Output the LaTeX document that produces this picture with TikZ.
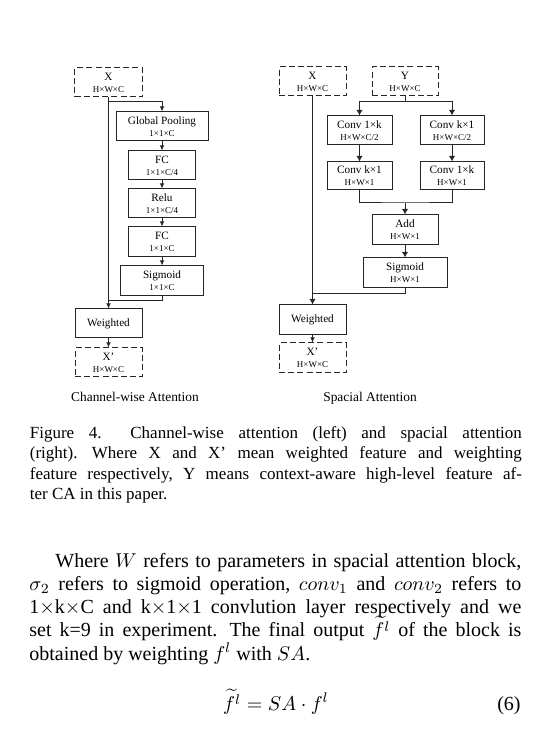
\documentclass[tikz,border=0pt]{standalone}
\usepackage{fontspec}
\setmainfont{Liberation Serif}
\usetikzlibrary{arrows.meta}
\newcommand{\sublab}[1]{{\fontsize{4.5}{5}\selectfont #1}}
\newcommand{\capline}[1]{\makebox[246pt][s]{\frenchspacing #1}}
\begin{document}
\begin{tikzpicture}[x=0.5pt,y=-0.5pt,
  box/.style={draw=black!85, line width=0.5pt, inner sep=0pt, align=center,
    font=\fontsize{5.6}{6}\selectfont, minimum height=14.5pt},
  dbox/.style={box, dash pattern=on 3pt off 1.6pt},
  arr/.style={-{Latex[length=2.6pt,width=2.4pt]}, line width=0.5pt, draw=black!85},
  arrb/.style={-{Latex[length=2.8pt,width=3.2pt]}, line width=0.5pt, draw=black!85},
  ln/.style={line width=0.5pt, draw=black!85},
  dcap/.style={inner sep=0pt, anchor=base, font=\fontsize{6.7}{8}\selectfont},
  capt/.style={inner sep=0pt, anchor=base west, font=\fontsize{8.5}{10}\selectfont\frenchspacing},
  body/.style={inner sep=0pt, anchor=base west, font=\fontsize{10}{12}\selectfont\frenchspacing}
]
\useasboundingbox (0,0) rectangle (549,747);

% ---------- Channel-wise attention ----------
\node[dbox, minimum width=34pt] (lX) at (108.5,82.5) {X\\\sublab{H×W×C}};
\node[box, minimum width=46pt] (gp) at (162,126.5) {Global Pooling\\\sublab{1×1×C}};
\node[box, minimum width=33.5pt] (fc1) at (162,165.5) {FC\\\sublab{1×1×C/4}};
\node[box, minimum width=33.5pt] (relu) at (162,203.5) {Relu\\\sublab{1×1×C/4}};
\node[box, minimum width=33.5pt, minimum height=15pt] (fc2) at (162,242) {FC\\\sublab{1×1×C}};
\node[box, minimum width=41.5pt, minimum height=15pt] (lsig) at (162,281) {Sigmoid\\\sublab{1×1×C}};
\node[box, minimum width=33.5pt] (lW) at (108.5,323.5) {Weighted};
\node[dbox, minimum width=33.5pt] (lXp) at (108.5,362.5) {X’\\\sublab{H×W×C}};
\node[dcap] (lcap) at (135,401) {Channel-wise Attention};

\coordinate (lb) at (108.5,102);
\coordinate (lj) at (108.5,301);
\draw[arr] (lX.south) -- (lW.north);
\draw[arr] (lb) -| (gp.north);
\draw[arr] (gp) -- (fc1);
\draw[arr] (fc1) -- (relu);
\draw[arr] (relu) -- (fc2);
\draw[arr] (fc2) -- (lsig);
\draw[ln] (lsig.south) |- (lj);
\draw[arr] (lW) -- (lXp);

% ---------- Spacial attention ----------
\node[dbox, minimum width=33.5pt] (rX) at (312.5,81.5) {X\\\sublab{H×W×C}};
\node[dbox, minimum width=33pt] (rY) at (405,81.5) {Y\\\sublab{H×W×C}};
\node[box, minimum width=32.5pt] (c1) at (359.5,130.5) {Conv 1×k\\\sublab{H×W×C/2}};
\node[box, minimum width=32pt] (c2) at (452,130.5) {Conv k×1\\\sublab{H×W×C/2}};
\node[box, minimum width=32.5pt, minimum height=14pt] (c3) at (359.5,176) {Conv k×1\\\sublab{H×W×1}};
\node[box, minimum width=32pt, minimum height=14pt] (c4) at (452,176) {Conv 1×k\\\sublab{H×W×1}};
\node[box, minimum width=33pt, minimum height=15pt] (add) at (405,230) {Add\\\sublab{H×W×1}};
\node[box, minimum width=42pt, minimum height=15pt] (rsig) at (405,273) {Sigmoid\\\sublab{H×W×1}};
\node[box, minimum width=33.5pt, minimum height=15pt] (rW) at (312.5,320) {Weighted};
\node[dbox, minimum width=33.5pt, minimum height=15pt] (rXp) at (312.5,358) {X’\\\sublab{H×W×C}};
\node[dcap] (rcap) at (370,401) {Spacial Attention};

\coordinate (ys) at (405,102);
\coordinate (aj) at (405,203);
\coordinate (rj) at (312.5,294);
\draw[arrb] (rX.south) -- (rW.north);
\draw[ln] (rY.south) -- (ys);
\draw[arrb] (ys) -| (c1.north);
\draw[arrb] (ys) -| (c2.north);
\draw[arrb] (c1) -- (c3);
\draw[arrb] (c2) -- (c4);
\draw[ln] (c3.south) |- (aj) -| (c4.south);
\draw[arrb] (aj) -- (add.north);
\draw[arrb] (add) -- (rsig);
\draw[ln] (rsig.south) |- (rj);
\draw[arr] (rW) -- (rXp);

% ---------- Caption ----------
\node[capt] (cap1) at (29.5,438) {\capline{Figure 4.\hspace{7pt} Channel-wise attention (left) and spacial attention}};
\node[capt] (cap2) at (29.5,458.5) {\capline{(right).\hspace{1.5pt} Where X and X’ mean weighted feature and weighting}};
\node[capt] (cap3) at (29.5,479) {\capline{feature respectively, Y means context-aware high-level feature af-}};
\node[capt] (cap4) at (29.5,499.5) {ter CA in this paper.};

% ---------- Body text ----------
\node[body] (b1) at (29,567) {\capline{\hspace*{13pt}Where $W$ refers to parameters in spacial attention block,}};
\node[body] (b2) at (29,590.3) {\capline{$\sigma_2$ refers to sigmoid operation, $conv_1$ and $conv_2$ refers to}};
\node[body] (b3) at (29,613.6) {\capline{1$\times$k$\times$C and k$\times$1$\times$1 convlution layer respectively and we}};
\node[body] (b4) at (29,636.9) {\capline{set k=9 in experiment.\hspace{2pt} The final output $\widetilde{f^l}$ of the block is}};
\node[body] (b5) at (29,660.2) {obtained by weighting $f^l$ with $SA$.};
\node[body, anchor=base] (eq) at (276,710) {$\widetilde{f^l} = SA\cdot f^l$};
\node[body, anchor=base east] (eqn) at (521,710) {(6)};
\end{tikzpicture}
\end{document}
